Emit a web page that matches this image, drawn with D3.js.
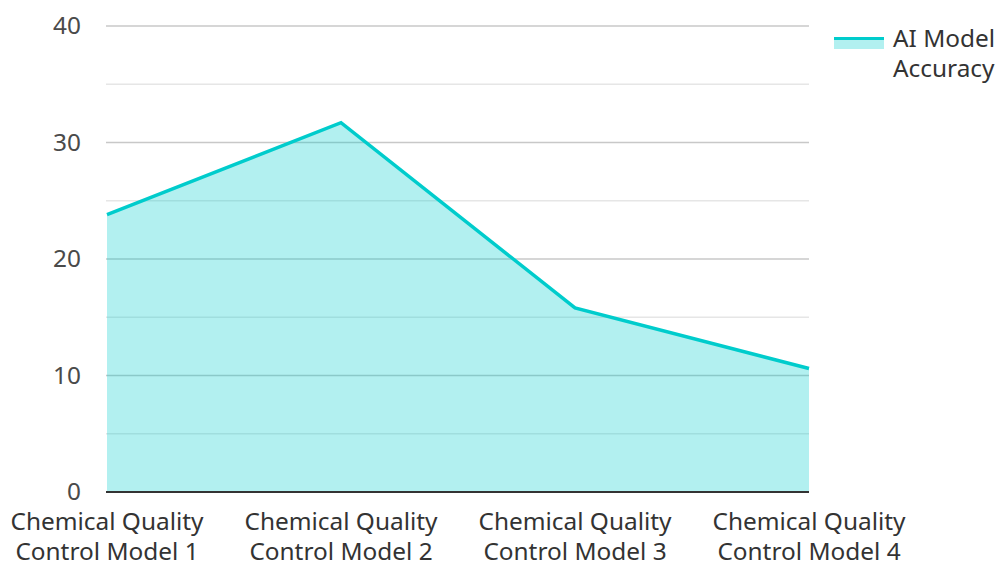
<!DOCTYPE html>
<html>
<head>
<meta charset="utf-8">
<script src="https://cdn.jsdelivr.net/npm/d3@7"></script>
<style>
  html, body { margin: 0; padding: 0; background: #fff; }
  svg { display: block; font-family: "Noto Sans", "Open Sans", sans-serif; }
</style>
</head>
<body>
<svg id="chart" width="996" height="563"></svg>
<script>
// Accuracy of each quality-control model
const categories = [
  ["Chemical Quality", "Control Model 1"],
  ["Chemical Quality", "Control Model 2"],
  ["Chemical Quality", "Control Model 3"],
  ["Chemical Quality", "Control Model 4"]
];
const accuracy = [23.8, 31.7, 15.8, 10.6];
const yTicks = [0, 10, 20, 30, 40];
const yMinorTicks = [5, 15, 25, 35];
const seriesName = ["AI Model", "Accuracy"];

const svg = d3.select("#chart");
const margin = { left: 107, right: 187, top: 26, bottom: 71 };
const W = 996, H = 563;
const fontSize = 24.4;

const x = d3.scalePoint()
  .domain(d3.range(categories.length))
  .range([margin.left, W - margin.right]);
const y = d3.scaleLinear()
  .domain([0, 40])
  .range([H - margin.bottom, margin.top]);

const lineColor = "#00cccc";
const fillColor = "rgba(0,204,204,0.3)";

// grid lines
const grid = svg.append("g");
grid.selectAll("line.minor").data(yMinorTicks).join("line")
  .attr("x1", margin.left - 1).attr("x2", W - margin.right)
  .attr("y1", d => y(d)).attr("y2", d => y(d))
  .attr("stroke", "#e6e6e6").attr("stroke-width", 1.5);
grid.selectAll("line.major").data(yTicks.filter(d => d > 0)).join("line")
  .attr("x1", margin.left - 1).attr("x2", W - margin.right)
  .attr("y1", d => y(d)).attr("y2", d => y(d))
  .attr("stroke", "#c8c8c8").attr("stroke-width", 1.5);

// area and line
const area = d3.area()
  .x((d, i) => x(i))
  .y0(y(0))
  .y1(d => y(d));
const line = d3.line()
  .x((d, i) => x(i))
  .y(d => y(d));

svg.append("path").datum(accuracy)
  .attr("d", area)
  .attr("fill", fillColor);
svg.append("path").datum(accuracy)
  .attr("d", line)
  .attr("fill", "none")
  .attr("stroke", lineColor)
  .attr("stroke-width", 3.5)
  .attr("stroke-linejoin", "miter");

// baseline
svg.append("line")
  .attr("x1", margin.left - 1).attr("x2", W - margin.right)
  .attr("y1", y(0)).attr("y2", y(0))
  .attr("stroke", "#333").attr("stroke-width", 2);

// y axis labels
const yAxis = d3.axisLeft(y).tickValues(yTicks).tickSize(0).tickPadding(26);
const yG = svg.append("g").attr("transform", `translate(${margin.left},0)`).call(yAxis);
yG.select(".domain").remove();
yG.selectAll("text")
  .attr("font-size", fontSize)
  .attr("fill", "#4a4a4a")
  .attr("font-family", "'Noto Sans', 'Open Sans', sans-serif");

// x axis labels (two lines each)
const xG = svg.append("g");
xG.selectAll("text").data(categories).join("text")
  .attr("x", (d, i) => x(i))
  .attr("y", y(0) + 38)
  .attr("text-anchor", "middle")
  .attr("font-size", fontSize)
  .attr("fill", "#333")
  .each(function(d) {
    const t = d3.select(this);
    d.forEach((s, k) => {
      t.append("tspan")
        .attr("x", t.attr("x"))
        .attr("dy", k === 0 ? 0 : 30)
        .text(s);
    });
  });

// legend
const lg = svg.append("g");
lg.append("rect")
  .attr("x", 834).attr("y", 37).attr("width", 50).attr("height", 12)
  .attr("fill", fillColor);
lg.append("line")
  .attr("x1", 834).attr("x2", 884).attr("y1", 38.5).attr("y2", 38.5)
  .attr("stroke", lineColor).attr("stroke-width", 3);
lg.append("text")
  .attr("x", 893).attr("y", 47)
  .attr("font-size", fontSize)
  .attr("fill", "#333")
  .selectAll("tspan").data(seriesName).join("tspan")
  .attr("x", 893)
  .attr("dy", (d, i) => i === 0 ? 0 : 30)
  .text(d => d);
</script>
</body>
</html>
